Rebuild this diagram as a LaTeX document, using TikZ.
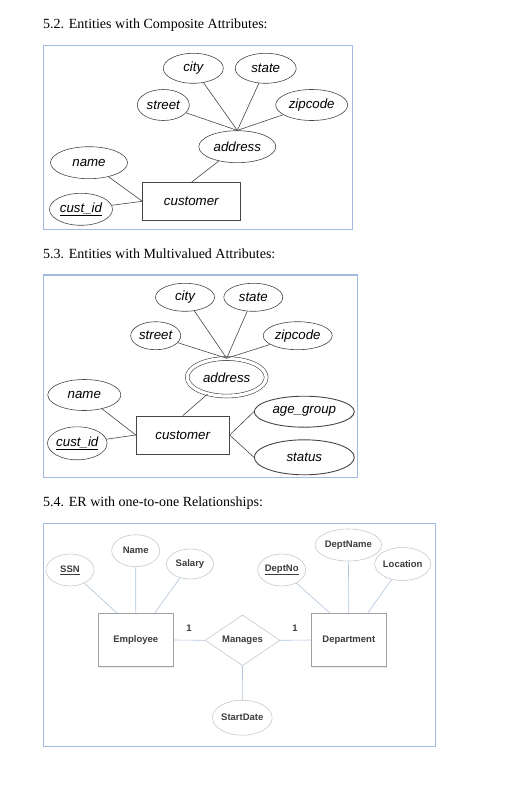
\documentclass[tikz,border=0pt]{standalone}
\usepackage{fontspec}
\setmainfont{Liberation Serif}
\setsansfont{Liberation Sans}
\usepackage{tikz}
\usetikzlibrary{shapes.geometric, shadows, positioning, calc}
\definecolor{frameblue}{RGB}{160,186,224}
\definecolor{erline}{RGB}{70,70,70}
\definecolor{lightline}{RGB}{176,196,222}
\definecolor{lightbord}{RGB}{200,200,200}
\definecolor{textgray}{RGB}{60,60,60}

\tikzset{
    heading/.style = {anchor=base west, inner sep=0pt, font=\fontsize{14}{16}\selectfont},
    frame/.style = {draw=frameblue, line width=1.2pt},
    attr/.style = {ellipse, draw=erline, line width=0.6pt, inner sep=0pt, font=\sffamily\itshape\fontsize{13.3}{15}\selectfont},
    mattr/.style = {attr, double, double distance=3.2pt},
    entity/.style = {rectangle, draw=erline, line width=0.6pt, inner sep=0pt, font=\sffamily\itshape\fontsize{13.3}{15}\selectfont},
    link/.style = {draw=erline, line width=0.6pt},
    attrb/.style = {ellipse, draw=lightbord, line width=0.6pt, inner sep=0pt, text=textgray, font=\sffamily\bfseries\fontsize{9.5}{11}\selectfont},
    entb/.style = {rectangle, draw=lightbord!80!black, line width=0.6pt, fill=white, inner sep=0pt, text=textgray,
        font=\sffamily\bfseries\fontsize{9.5}{11}\selectfont, drop shadow={opacity=0.15, shadow xshift=1pt, shadow yshift=-1pt}},
    relb/.style = {diamond, draw=lightbord, line width=0.6pt, inner sep=0pt, aspect=1.5, text=textgray, font=\sffamily\bfseries\fontsize{9.5}{11}\selectfont},
    linkb/.style = {draw=lightline, line width=0.6pt},
    card/.style = {text=textgray, font=\sffamily\bfseries\fontsize{9.5}{11}\selectfont, inner sep=0pt}
}

\begin{document}
\begin{tikzpicture}[x=1pt, y=-1pt]
    % Pagina
    \useasboundingbox (0,0) rectangle (504,787);

    % 5.2 Attributi composti
    \node[heading] (h1) at (43,28.3) {5.2. Entities with Composite Attributes:};
    \draw[frame] (43.3,45.7) rectangle (352.7,229.3);
    \node[attr, minimum width=60, minimum height=30] (city1) at (193.3,68.3) {city};
    \node[attr, minimum width=61, minimum height=30] (state1) at (265.7,68.3) {state};
    \node[attr, minimum width=52, minimum height=31] (street1) at (163.3,105) {street};
    \node[attr, minimum width=72, minimum height=31] (zip1) at (311.7,105) {zipcode};
    \node[attr, minimum width=77, minimum height=32] (addr1) at (237.3,146.7) {address};
    \node[attr, minimum width=77, minimum height=32] (name1) at (89,162.7) {name};
    \node[attr, minimum width=63, minimum height=32] (id1) at (81,209.3) {\underline{cust\_id}};
    \node[entity, minimum width=97.3, minimum height=37.3] (cust1) at (191.3,201.3) {customer};
    \foreach \a in {city1, state1, street1, zip1}
        \draw[link] (\a) -- (addr1.north);
    \draw[link] (addr1) -- (cust1.north);
    \draw[link] (name1) -- (cust1.west);
    \draw[link] (id1) -- (cust1.west);

    % 5.3 Attributi multivalore
    \node[heading] (h2) at (43,258.3) {5.3. Entities with Multivalued Attributes:};
    \draw[frame] (43.3,275) rectangle (357.3,477.3);
    \node[attr, minimum width=59, minimum height=28] (city2) at (185,297.3) {city};
    \node[attr, minimum width=59, minimum height=28] (state2) at (253.3,297.3) {state};
    \node[attr, minimum width=50, minimum height=28] (street2) at (155.7,335.7) {street};
    \node[attr, minimum width=69, minimum height=28] (zip2) at (297.7,335.7) {zipcode};
    \node[mattr, minimum width=79, minimum height=37.5] (addr2) at (226.7,377.3) {address};
    \node[attr, minimum width=73, minimum height=31] (name2) at (84.3,395) {name};
    \node[attr, minimum width=58, minimum height=33] (id2) at (77.3,443.3) {\underline{cust\_id}};
    \node[entity, minimum width=93.3, minimum height=38] (cust2) at (182.7,435) {customer};
    \node[attr, line width=0.9pt, minimum width=100, minimum height=31] (age2) at (304.3,411.7) {age\_group};
    \node[attr, line width=0.9pt, minimum width=100, minimum height=35] (stat2) at (304.3,457.3) {status};
    \foreach \a in {city2, state2, street2, zip2}
        \draw[link] (\a) -- (addr2.north);
    \draw[link] (addr2) -- (cust2.north);
    \draw[link] (name2) -- (cust2.west);
    \draw[link] (id2) -- (cust2.west);
    \draw[link] (cust2.east) -- (age2.west);
    \draw[link] (cust2.east) -- (stat2.west);

    % 5.4 Relazione uno-a-uno
    \node[heading] (h3) at (43,506.7) {5.4. ER with one-to-one Relationships:};
    \draw[frame] (43.3,523.3) rectangle (435.7,746.7);
    \node[attrb, minimum width=48, minimum height=32] (ssn) at (70,570) {\underline{SSN}};
    \node[attrb, minimum width=48, minimum height=32] (ename) at (135.7,550.7) {Name};
    \node[attrb, minimum width=47, minimum height=30] (sal) at (190,564) {Salary};
    \node[attrb, minimum width=48, minimum height=32] (dno) at (281.7,570) {\underline{DeptNo}};
    \node[attrb, minimum width=56, minimum height=32] (dname) at (348.3,545) {DeptName};
    \node[attrb, minimum width=47, minimum height=33] (loc) at (402.7,564) {Location};
    \node[attrb, minimum width=53, minimum height=35] (start) at (242.3,717.7) {StartDate};
    \node[entb, minimum width=75, minimum height=53.3] (emp) at (135.8,640) {Employee};
    \node[entb, minimum width=74.3, minimum height=53.3] (dep) at (348.8,640) {Department};
    \node[relb, minimum width=75, minimum height=50.7] (man) at (242.5,640.3) {Manages};
    \draw[linkb] (ssn) -- (emp.125);
    \draw[linkb] (ename) -- (emp.north);
    \draw[linkb] (sal) -- (emp.55);
    \draw[linkb] (dno) -- (dep.125);
    \draw[linkb] (dname) -- (dep.north);
    \draw[linkb] (loc) -- (dep.55);
    \draw[linkb] (emp.east) -- (man.west);
    \draw[linkb] (man.east) -- (dep.west);
    \draw[linkb] (man.south) -- (start);
    \node[card] (c1) at (189,628.3) {1};
    \node[card] (c2) at (295,628.3) {1};
\end{tikzpicture}
\end{document}
